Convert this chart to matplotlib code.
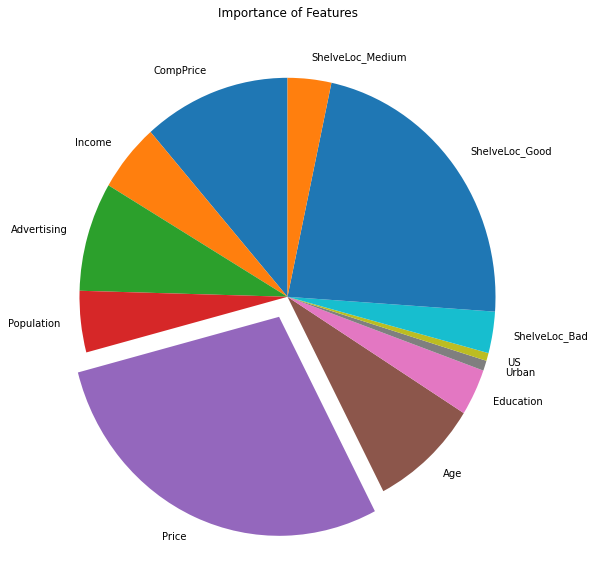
import matplotlib
matplotlib.use("Agg")
import matplotlib.pyplot as plt

labels = ["CompPrice", "Income", "Advertising", "Population", "Price", "Age",
          "Education", "Urban", "US", "ShelveLoc_Bad", "ShelveLoc_Good", "ShelveLoc_Medium"]
importances = [0.1144, 0.0506, 0.0806, 0.0453, 0.2853, 0.0847,
               0.0344, 0.0075, 0.0058, 0.0306, 0.2269, 0.0339]
explode = [0, 0, 0, 0, 0.1, 0, 0, 0, 0, 0, 0, 0]

W, H, DPI = 595, 581, 72
fig = plt.figure(figsize=(W / DPI, H / DPI), dpi=DPI)
cx, cy, sx, sy = 287.5, 296.8, 208, 219
ax = fig.add_axes([(cx - 1.25 * sx) / W, (H - cy - 1.25 * sy) / H,
                   2.5 * sx / W, 2.5 * sy / H])
ax.pie(importances, labels=labels, explode=explode, startangle=90,
       textprops={"fontsize": 10})
ax.set_aspect("auto")
ax.set_xlim(-1.25, 1.25)
ax.set_ylim(-1.25, 1.25)
ax.set_title("Importance of Features", fontsize=12)
fig.savefig("out.png", dpi=DPI)
